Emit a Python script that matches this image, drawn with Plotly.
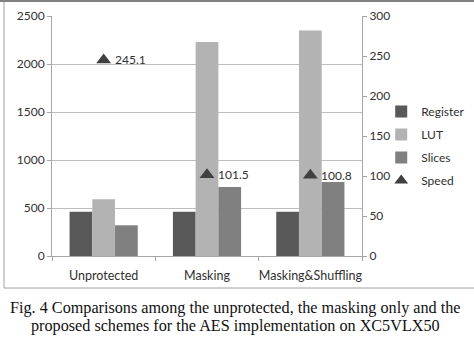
import plotly.graph_objects as go

categories = ["Unprotected", "Masking", "Masking&Shuffling"]
register = [460, 460, 460]
lut = [590, 2230, 2350]
slices = [320, 720, 770]
speed = [245.1, 101.5, 100.8]
speed_labels = ["245.1", "101.5", "100.8"]
caption = ["Fig. 4 Comparisons among the unprotected, the masking only and the",
           "proposed schemes for the AES implementation on XC5VLX50"]

font_axis = "Lato, Carlito, 'Liberation Sans', sans-serif"
grid = "#bdbdbd"
axcol = "#a6a6a6"
fs = 12
cap_fs = 16.2
cap_bottoms = [317.0, 335.2]

fig = go.Figure()
fig.add_trace(go.Bar(x=categories, y=register, name="Register", marker_color="#595959",
                     marker_line_width=0, legendgroup="a"))
fig.add_trace(go.Bar(x=categories, y=lut, name="LUT", marker_color="#b3b3b3",
                     marker_line_width=0, legendgroup="b"))
fig.add_trace(go.Bar(x=categories, y=slices, name="Slices", marker_color="#808080",
                     marker_line_width=0, legendgroup="c"))
fig.add_trace(go.Scatter(x=categories, y=speed, name="Speed", mode="markers", yaxis="y2",
                         marker=dict(symbol="triangle-up", size=13, color="#404040"),
                         legendgroup="d"))

annotations = [
    dict(x=c, y=v, xref="x", yref="y2", text=t, showarrow=False, xanchor="left",
         yanchor="middle", xshift=9, font=dict(family=font_axis, size=fs, color="#303030"))
    for c, v, t in zip(categories, speed, speed_labels)
]
for line, yb in zip(caption, cap_bottoms):
    annotations.append(
        dict(text=line, xref="paper", yref="paper", x=(235 - 52) / 310,
             y=(256 - yb) / 240, borderpad=0, borderwidth=0,
             xanchor="center", yanchor="bottom", showarrow=False,
             font=dict(family="'Liberation Serif', 'Times New Roman', serif", size=cap_fs,
                       color="#111111"))
    )

fig.update_layout(
    width=474, height=344,
    margin=dict(l=52, r=112, t=16, b=88, autoexpand=False),
    paper_bgcolor="white", plot_bgcolor="white",
    barmode="group", bargap=0.34, bargroupgap=0,
    font=dict(family=font_axis, size=fs, color="#404040"),
    xaxis=dict(showgrid=False, showline=True, linecolor=axcol, ticks="outside",
               tickson="boundaries", ticklen=4, tickcolor=axcol, tickangle=0,
               ticklabelstandoff=8, automargin=False,
               tickfont=dict(size=12.5, color="#303030")),
    yaxis=dict(range=[0, 2500], dtick=500, showgrid=True, gridcolor=grid, gridwidth=1,
               showline=True, linecolor=axcol, ticks="outside", ticklen=4, tickcolor=axcol,
               zeroline=False, automargin=False, tickfont=dict(size=fs, color="#303030")),
    yaxis2=dict(range=[0, 300], dtick=50, overlaying="y", side="right", showgrid=False,
                showline=True, linecolor=axcol, ticks="outside", ticklen=4, tickcolor=axcol,
                zeroline=False, automargin=False, tickfont=dict(size=fs, color="#303030")),
    legend=dict(x=1.062, y=0.663, xanchor="left", yanchor="top", traceorder="grouped",
                tracegroupgap=4, font=dict(size=fs, color="#303030"),
                bgcolor="rgba(0,0,0,0)", itemwidth=30, itemsizing="constant"),
    shapes=[
        dict(type="rect", xref="paper", yref="paper",
             x0=(4 - 52) / 310, x1=(480 - 52) / 310,
             y0=(256 - 288) / 240, y1=(256 - 1) / 240,
             line=dict(color="#a0a0a0", width=1), fillcolor="rgba(0,0,0,0)", layer="below"),
        dict(type="line", xref="paper", yref="paper",
             x0=(0 - 52) / 310, x1=(474 - 52) / 310,
             y0=(256 - 1) / 240, y1=(256 - 1) / 240,
             line=dict(color="#808080", width=2)),
    ],
    annotations=annotations,
)

fig.write_html("out.html")
